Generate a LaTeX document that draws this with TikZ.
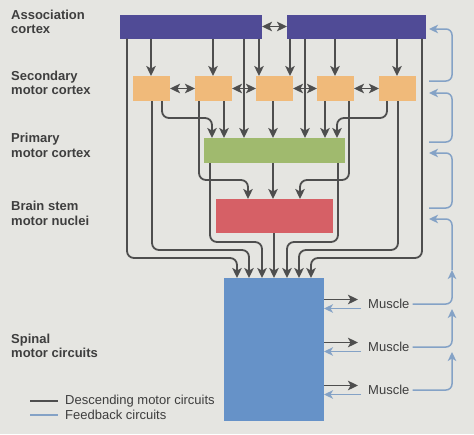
\documentclass[tikz,border=0pt]{standalone}
\usepackage{fontspec}
\setmainfont{Liberation Sans}
\usetikzlibrary{arrows.meta,calc}

\definecolor{paper}{RGB}{229,229,225}
\definecolor{assoc}{RGB}{80,75,150}
\definecolor{secondary}{RGB}{240,186,122}
\definecolor{primary}{RGB}{160,186,110}
\definecolor{stem}{RGB}{214,96,102}
\definecolor{spine}{RGB}{102,146,200}
\definecolor{motorline}{RGB}{78,78,78}
\definecolor{fbline}{RGB}{132,162,198}
\definecolor{labeltext}{RGB}{62,62,62}

\begin{document}
\begin{tikzpicture}[x=1pt, y=-1pt,
    box/.style={rectangle, inner sep=0pt, outer sep=0pt},
    level/.style={anchor=west, inner sep=0pt, align=left, text=labeltext, font=\fontsize{13}{14.5}\selectfont\bfseries},
    muscle/.style={anchor=west, inner sep=0pt, text=labeltext, font=\fontsize{13}{15}\selectfont},
    arrow/.style={-{Stealth[length=10pt, width=9.5pt, inset=2.5pt]}, line width=1.8pt, draw=motorline, rounded corners=7pt},
    both/.style={arrow, {Stealth[length=10pt, width=9.5pt, inset=2.5pt]}-{Stealth[length=10pt, width=9.5pt, inset=2.5pt]}},
    fb/.style={-{Stealth[length=9pt, width=8.5pt, inset=2.5pt]}, line width=1.5pt, draw=fbline, rounded corners=6pt}
]

\fill[paper] (0,0) rectangle (474,434);

% Level labels
\node[level] (lblAssoc) at (11,22) {Association\\cortex};
\node[level] (lblSec) at (11,83) {Secondary\\motor cortex};
\node[level] (lblPrim) at (11,145.5) {Primary\\motor cortex};
\node[level] (lblStem) at (11,213.5) {Brain stem\\motor nuclei};
\node[level] (lblSpinal) at (11,346) {Spinal\\motor circuits};

% Association cortex
\node[box, fill=assoc, minimum width=142pt, minimum height=24pt] (assocL) at (191,26.5) {};
\node[box, fill=assoc, minimum width=139pt, minimum height=24pt] (assocR) at (356.5,26.5) {};

% Secondary motor cortex
\foreach \i/\x in {1/151.5,2/213.5,3/274.5,4/335.5,5/397.5}
    \node[box, fill=secondary, minimum width=37pt, minimum height=25pt] (sec\i) at (\x,88.5) {};

% Primary motor cortex, brain stem, spinal cord
\node[box, fill=primary, minimum width=141pt, minimum height=25pt] (prim) at (274.5,150.5) {};
\node[box, fill=stem, minimum width=117pt, minimum height=34pt] (stem) at (274.5,216) {};
\node[box, fill=spine, minimum width=100pt, minimum height=143pt] (spinal) at (274,349.5) {};

% Lateral links
\draw[both] (assocL.east) -- (assocR.west);
\foreach \a/\b in {1/2,2/3,3/4,4/5}
    \draw[both] (sec\a.east) -- (sec\b.west);

% Association -> secondary
\foreach \s/\t/\x in {assocL/sec1/151, assocL/sec2/213, assocL/sec3/259, assocR/sec3/290, assocR/sec4/335, assocR/sec5/397}
    \draw[arrow] (\s.south -| \x,0) -- (\t.north -| \x,0);

% Into primary motor cortex
\foreach \s/\x in {assocL/244, assocR/305, sec2/224, sec3/273, sec4/325}
    \draw[arrow] (\s.south -| \x,0) -- (prim.north -| \x,0);
\draw[arrow] (sec1.south -| 162,0) |- (212,118) -- (prim.north -| 212,0);
\draw[arrow] (sec5.south -| 387,0) |- (337,118) -- (prim.north -| 337,0);

% Into brain stem
\draw[arrow] (sec2.south -| 199,0) |- (248,180) -- (stem.north -| 248,0);
\draw[arrow] (prim.south -| 273,0) -- (stem.north -| 273,0);
\draw[arrow] (sec4.south -| 349,0) |- (300,180) -- (stem.north -| 300,0);

% Into spinal motor circuits
\draw[arrow] (assocL.south -| 127,0) |- (237,258) -- (spinal.north -| 237,0);
\draw[arrow] (sec1.south -| 152,0) |- (249,250) -- (spinal.north -| 249,0);
\draw[arrow] (prim.south -| 210,0) |- (262,242) -- (spinal.north -| 262,0);
\draw[arrow] (stem.south -| 274,0) -- (spinal.north -| 274,0);
\draw[arrow] (prim.south -| 338,0) |- (287,242) -- (spinal.north -| 287,0);
\draw[arrow] (sec5.south -| 398,0) |- (299,250) -- (spinal.north -| 299,0);
\draw[arrow] (assocR.south -| 422,0) |- (311,258) -- (spinal.north -| 311,0);

% Muscles
\coordinate (fbx) at (452,0);
\foreach \i/\y in {1/304,2/347,3/390} {
    \node[muscle] (mus\i) at (368,\y) {Muscle};
    \draw[arrow] ($(spinal.east |- mus\i.west)+(0,-4.5)$) -- ($(mus\i.west)+(-10,-4.5)$);
    \draw[fb] ($(mus\i.west)+(-7,4.5)$) -- ($(spinal.east |- mus\i.west)+(0,4.5)$);
}

% Feedback
\draw[fb] ([xshift=3pt]mus3.east) -| ($(fbx |- mus2.east)+(0,5)$);
\draw[fb] ([xshift=3pt]mus2.east) -| ($(fbx |- mus1.east)+(0,5)$);
\draw[fb] ([xshift=3pt]mus1.east) -| ($(fbx |- mus1.east)+(0,-34)$);
\coordinate (fbtop) at (429,219);
\draw[fb] ($(fbx |- mus1.east)+(0,-34)$) |- (fbtop);
\foreach \i/\lo/\hi in {1/81/29, 2/142/93, 3/208/153} {
    \coordinate (fblo\i) at (429,\lo);
    \coordinate (fbhi\i) at (429,\hi);
    \draw[fb] (fblo\i) -| (fbx |- fbhi\i) -- (fbhi\i);
}

% Legend
\node[muscle] (legDesc) at (65,401) {Descending motor circuits};
\node[muscle] (legFb) at (65,415) {Feedback circuits};
\draw[line width=1.8pt, motorline] ($(legDesc.west)+(-35,0)$) -- ($(legDesc.west)+(-7,0)$);
\draw[line width=1.5pt, fbline] ($(legFb.west)+(-35,0)$) -- ($(legFb.west)+(-7,0)$);

\end{tikzpicture}
\end{document}
